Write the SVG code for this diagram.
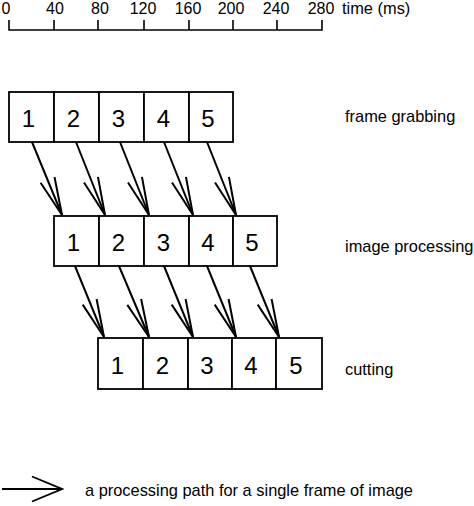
<svg xmlns="http://www.w3.org/2000/svg" width="474" height="506" viewBox="0 0 474 506">
  <style>
    .box { fill: #fff; stroke: #000; stroke-width: 1.8; }
    .num { font-family: "Liberation Sans", Arial, sans-serif; font-size: 24px; text-anchor: middle; fill: #000; }
    .lbl { font-family: "Liberation Sans", Arial, sans-serif; font-size: 16.4px; fill: #000; }
    .tick { font-family: "Liberation Sans", Arial, sans-serif; font-size: 16px; text-anchor: middle; fill: #000; }
    .ax { fill: none; stroke: #000; stroke-width: 1.6; }
    .conn { fill: none; stroke: #000; stroke-width: 2; marker-end: url(#arr); }
  </style>
  <defs>
    <marker id="arr" viewBox="-42 -10 44 20" refX="0" refY="0" markerWidth="44" markerHeight="20" markerUnits="userSpaceOnUse" orient="auto">
      <path d="M-38,-7.5 L0,0 L-38,7.5" fill="none" stroke="#000" stroke-width="2"/>
    </marker>
    <marker id="arrL" viewBox="-34 -15 36 30" refX="0" refY="0" markerWidth="36" markerHeight="30" markerUnits="userSpaceOnUse" orient="auto">
      <path d="M-30,-12.5 L0,0 L-30,12.5" fill="none" stroke="#000" stroke-width="1.8"/>
    </marker>
  </defs>

  <g id="timeline">
    <path class="ax" d="M9,20 V30 H322 V20 M54,20 V30 M98,20 V30 M144,20 V30 M189,20 V30 M233,20 V30 M277,20 V30"/>
    <text class="tick" x="6" y="13.5">0</text>
    <text class="tick" x="55" y="13.5">40</text>
    <text class="tick" x="100" y="13.5">80</text>
    <text class="tick" x="143" y="13.5">120</text>
    <text class="tick" x="188" y="13.5">160</text>
    <text class="tick" x="231" y="13.5">200</text>
    <text class="tick" x="276" y="13.5">240</text>
    <text class="tick" x="321" y="13.5">280</text>
    <text class="lbl" x="342" y="13.5">time (ms)</text>
  </g>

  <g id="row-frame-grabbing">
    <g id="fg1"><rect class="box" x="9" y="92" width="45" height="50"/><text class="num" x="28.5" y="127">1</text></g>
    <g id="fg2"><rect class="box" x="54" y="92" width="45" height="50"/><text class="num" x="73.5" y="127">2</text></g>
    <g id="fg3"><rect class="box" x="99" y="92" width="45" height="50"/><text class="num" x="118.5" y="127">3</text></g>
    <g id="fg4"><rect class="box" x="144" y="92" width="45" height="50"/><text class="num" x="163.5" y="127">4</text></g>
    <g id="fg5"><rect class="box" x="189" y="92" width="44" height="50"/><text class="num" x="208" y="127">5</text></g>
    <text class="lbl" x="345" y="122">frame grabbing</text>
  </g>

  <g id="row-image-processing">
    <g id="ip1"><rect class="box" x="54" y="216" width="45" height="50"/><text class="num" x="73.5" y="250.5">1</text></g>
    <g id="ip2"><rect class="box" x="99" y="216" width="45" height="50"/><text class="num" x="118.5" y="250.5">2</text></g>
    <g id="ip3"><rect class="box" x="144" y="216" width="45" height="50"/><text class="num" x="163.5" y="250.5">3</text></g>
    <g id="ip4"><rect class="box" x="189" y="216" width="44" height="50"/><text class="num" x="208" y="250.5">4</text></g>
    <g id="ip5"><rect class="box" x="233" y="216" width="44" height="50"/><text class="num" x="252" y="250.5">5</text></g>
    <text class="lbl" x="345" y="252">image processing</text>
  </g>

  <g id="row-cutting">
    <g id="ct1"><rect class="box" x="98" y="338" width="45" height="51"/><text class="num" x="117.5" y="373.5">1</text></g>
    <g id="ct2"><rect class="box" x="143" y="338" width="45" height="51"/><text class="num" x="162.5" y="373.5">2</text></g>
    <g id="ct3"><rect class="box" x="188" y="338" width="44" height="51"/><text class="num" x="207" y="373.5">3</text></g>
    <g id="ct4"><rect class="box" x="232" y="338" width="44" height="51"/><text class="num" x="251" y="373.5">4</text></g>
    <g id="ct5"><rect class="box" x="276" y="338" width="46" height="51"/><text class="num" x="296" y="373.5">5</text></g>
    <text class="lbl" x="345" y="375">cutting</text>
  </g>

  <g id="connectors">
    <line class="conn" x1="32" y1="142" x2="62" y2="215"/>
    <line class="conn" x1="76" y1="142" x2="105" y2="215"/>
    <line class="conn" x1="120" y1="142" x2="149" y2="215"/>
    <line class="conn" x1="164" y1="142" x2="193" y2="215"/>
    <line class="conn" x1="207" y1="142" x2="236" y2="215"/>
    <line class="conn" x1="75" y1="266" x2="104" y2="337"/>
    <line class="conn" x1="119" y1="266" x2="149" y2="337"/>
    <line class="conn" x1="164" y1="266" x2="193" y2="337"/>
    <line class="conn" x1="207" y1="266" x2="236" y2="337"/>
    <line class="conn" x1="250" y1="266" x2="279" y2="337"/>
  </g>

  <g id="legend">
    <line x1="2" y1="489" x2="62" y2="489" stroke="#000" stroke-width="1.8" marker-end="url(#arrL)"/>
    <text class="lbl" x="85" y="496">a processing path for a single frame of image</text>
  </g>
</svg>
